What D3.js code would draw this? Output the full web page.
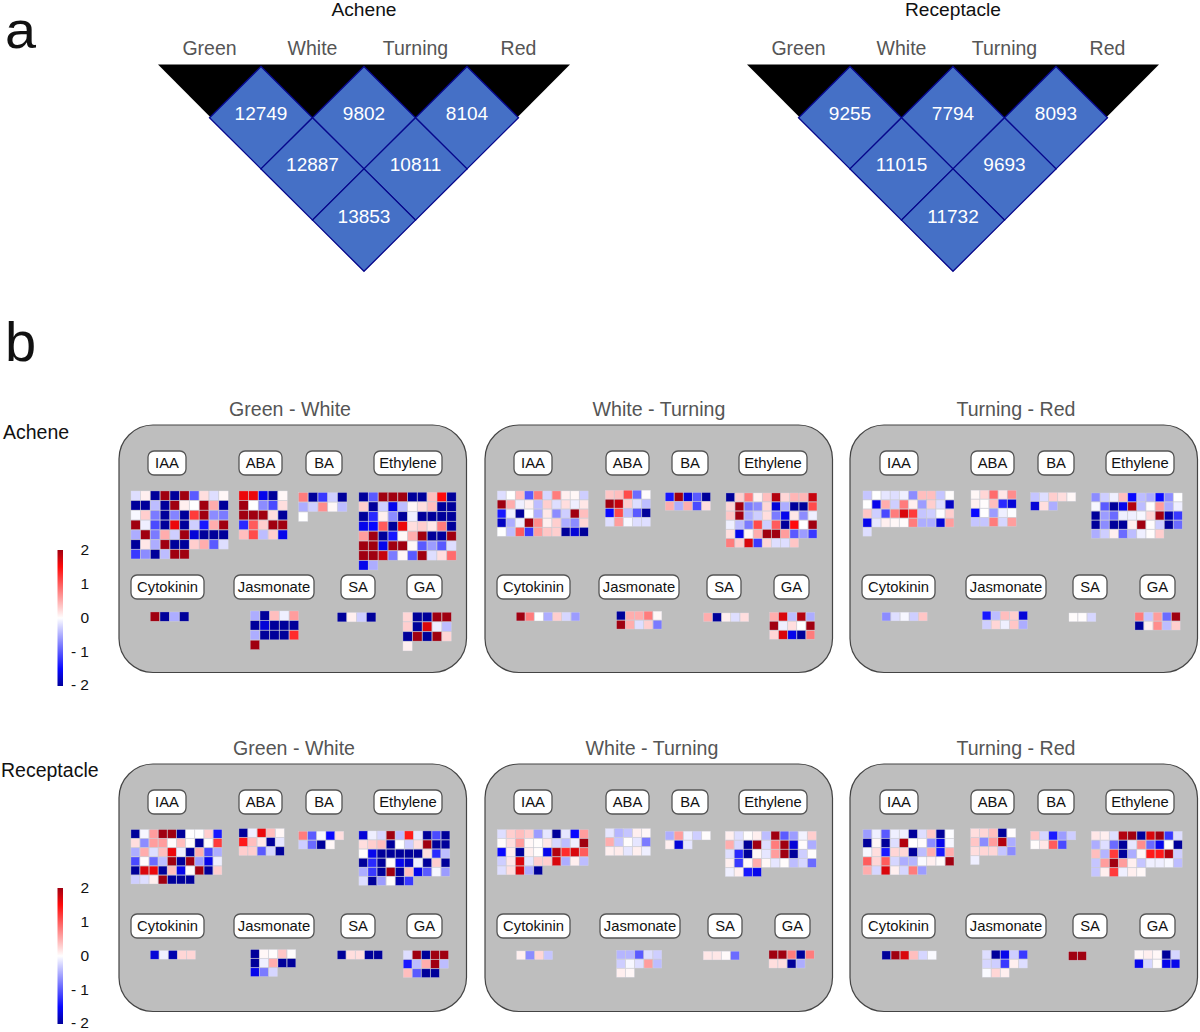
<!DOCTYPE html>
<html><head><meta charset="utf-8">
<script src="https://cdn.jsdelivr.net/npm/d3@7"></script>
<style>html,body{margin:0;padding:0;background:#fff}svg{display:block}text{font-family:"Liberation Sans",Arial,sans-serif}</style>
</head><body><svg id="c" width="1200" height="1032"></svg>
<script>
// ---- data ----
const stages = ["Green","White","Turning","Red"];
const acheneOverlap = [[12749,9802,8104],[12887,10811],[13853]];
const receptacleOverlap = [[9255,7794,8093],[11015,9693],[11732]];
const groupNames = ["IAA","ABA","BA","Ethylene","Cytokinin","Jasmonate","SA","GA"];
const colorTicks = [-2,-1,0,1,2];

const acheneGW = [
 [[-.2,.1,-2,2,-2,2,-1,.2,-.2,.05],[-2,-2,-.4,-2,2,.1,0,2,.5,-2],[-.05,.3,-.8,-2,-.75,-2,1.2,2,-.7,-.8],[2,-.1,-1.1,-2,1.6,-2,-.3,-1.4,.5,2],[-.5,2,-.8,.5,-.3,2,-1.7,-2,-2,-2],[-2,.15,-.5,2,-2,-2,.3,.5,-1,-.2],[-1.2,-.7,-2,-.4,2,2]],
 [[1.6,1.6,-1.6,-2,.05],[2,0,-.7,-1.1,.2],[2,2,2,.2,-2],[-1.3,1,.3,2,2],[.4,1.1,-.4,.3,-1.6]],
 [[.8,-2,-1.2,-.3,-2],[-.5,-.3,.7,.05,-.4],[0]],
 [[-2,-1,2,2,2,-2,-2,.4,1.5,-2],[.3,-2,-.3,-1.6,-.4,.05,.2,.4,-2,-2],[-2,-1.3,.1,-.7,-2,-.1,-2,-2,-2,-2],[-1.6,-1.5,1,-2,1.6,.2,.3,.15,.8,-2],[.6,2,-2,-1.4,.05,.5,2,-2,-2,2],[2,2,-1.6,2,2,.05,-1,-.6,-1,-.2],[2,2,1.8,-.8,.05,-1,2,-.2,.2,.9],[-1.6,-.5]],
 [[2,-2,-.5,-2]],
 [[-.5,-2,.4,-.1,.6],[-2,-1.7,-2,-2,-2],[-.5,-2,-2,-2,1.3],[2]],
 [[-2,.1,-.3,-2]],
 [[.25,-2,-2,2,2],[.3,-2,1.7,-.1,-.4],[-2,2,-2,2,.25],[.1]]
];
const acheneWT = [
 [[-.2,0,.4,-1,.8,-.25,.8,.1,.05,-.3],[2,.5,-.1,.1,-.4,.3,-.2,.2,-.1,.15],[-1.4,-.1,-2,0,-.5,.15,-.7,-.3,2,.4],[-1.8,-.5,-.1,2,.7,.1,.3,-.5,-.7,.25],[0,-.4,1,-1.2,.6,.35,.3,-2,-1.7,-2]],
 [[.35,.4,1.1,-.9,.02],[2,1.8,.3,-.2,-.4],[-1.5,1.1,-.4,-1,-2],[-.2,.6,-.05,-.2,-.2]],
 [[-1.4,2,-1.7,-1,-2],[.5,-.5,.5,-1.1,.2]],
 [[-2,.3,.8,.1,.4,1.9,.25,.45,.45,1.8],[.25,2,-.8,-.7,.25,-1.7,-.5,-2,-2,1.1],[.35,2,-.5,-.3,.2,-.8,-1.6,.15,-.7,-.1],[-.1,-.4,-.8,1.1,-.3,1,-2,1.5,0,2],[.2,-1.6,.05,.5,2,2,.6,-1,-.6,-1.2],[.8,.3,1.7,-1.2,.25,-.2,-.2,.35]],
 [[2,.8,0,-.5,.3,-.25,-.6]],
 [[-2,.5,.5,.8,.05],[2,.5,-.2,.3,-.8]],
 [[.5,-2,.1,-.2,.2]],
 [[.5,1.7,-.4,1.9,-.5],[2,-.1,.2,0,2],[.25,1.7,-1.6,-2,.8]]
];
const acheneTR = [
 [[-.35,0,-.15,-.2,-.1,-.7,.4,.4,-.35,.02],[0,-1.6,.5,-.3,.8,.1,-.6,.3,-.2,-1.8],[.35,-.3,-1.1,.8,1.7,1.2,-.35,-.3,-.02,.3],[-1.6,-.15,.1,.05,.02,.8,-.5,-.5,-1.7,.6],[-.2]],
 [[.05,.25,.9,.15,.7],[.1,.02,.4,-1.3,-1.7],[-1.5,0,-.6,-.1,-.02],[-.35,-.35,.8,-.25,.6]],
 [[-.35,-.2,.3,.2,.05],[-1.7,.2,-.5]],
 [[-.7,-.3,-.1,.4,-1.5,-.4,-.5,-1.5,-.7,0],[-.05,-1,-2,-1.6,1.9,-.4,.02,.6,-.5,-.1],[-2,-.6,-.9,-.1,-.1,-.05,.25,2,-1.9,-1.2],[-2,-.7,-2,-2,.1,2,.02,-.3,-2,-.9],[-.5,-.3,.1,-.9,-.4,-.1,.02,.3]],
 [[-.7,-.2,-.05,-.3,.35]],
 [[-1.4,-.4,.4,.3,-1.7],[-.3,.25,-.1,.35,-.5]],
 [[.02,.02,-.25]],
 [[.8,-.35,.6,-.9,2],[-2,.1,.7,-.4,.3]]
];
const receptacleGW = [
 [[-2,-.05,.6,2,2,-2,0,0,.3,-1.4],[.2,-.7,.6,.6,.02,.4,.02,-2,.02,1.2],[-.5,.5,-.2,.4,1.6,-.1,-2,.5,-1.1,-.5],[-1.1,.02,-.9,-.4,2,-2,2,-.6,-1.6,-.1],[-2,1.7,1.6,-2,.4,-1.6,.02,2,-2,.3],[-.3,-.2,.1,2,-2,-2,-2]],
 [[-2,-.1,1.6,.4,.05],[1.4,.4,.15,-2,-.15],[.3,.3,-1,-.25,-2]],
 [[.8,-1,-.05,-1.5,.2],[-.3,-.9,-2,.05]],
 [[-1.7,-.1,-.25,2,-.4,1.4,-.15,-2,-1.1,-2],[.2,.3,.4,-2,0,-.3,.2,2,-2,-2],[.02,-1.6,-2,-2,-2,-2,-2,.2,-1.3,-.4],[-2,-1.3,-2,.02,-1.6,-1.8,-.1,-2,.3,-2],[-.5,-1.2,-2,2,-2,.4,-1.6,-1,-.05,-.6],[-.2,-2,-.6,.02,-1.9,-1.2]],
 [[-1.7,-.1,-1.9,.25,.25]],
 [[-2,.05,.02,.35,.02],[-2,-.1,.5,-2,-2],[-1.6,-.8,-.25]],
 [[-2,.2,.2,-2,-2]],
 [[-.2,2,-2,2,2],[-1.4,-.4,.5,2,-.4],[.4,-1,-2,-2]]
];
const receptacleWT = [
 [[-.2,.3,.4,.3,-.6,-.15,-2,-.15,-1.5,.6],[.02,.2,.6,.05,.02,.15,-.25,-.4,-.1,2],[-1.5,.1,-2,.1,.02,-1.6,1.9,1.3,1.7,1],[-.3,.15,1.7,-.15,.3,.3,1.7,-.5,.1,-.4],[-.2,.2,1.7,-.5,-2]],
 [[-.15,-.45,-.35,.1,.05],[.5,-.35,.02,-.15,-.8],[.1,.12,-.15,.1,-.1]],
 [[-.5,.6,-.1,-.3,.02],[.1,-1.7,-.15]],
 [[.1,-.2,.02,.1,-.4,2,-1,-.6,-.08,.3],[.5,-.25,-2,2,-.2,.8,2,-1.7,.02,-.5],[-.2,-1.3,-2,.05,-.15,.6,2,-2,-.3,.02],[.1,-1.2,.05,.5,.05,-.15,.02,-.4,-.25,-.9],[-.1,.1,-1.4,-1.6]],
 [[.1,-.7,.25,-.35]],
 [[-.45,-.45,-1,-.2,-.3],[-.3,-.05,-.2,.6,-.4],[.1,.05]],
 [[.15,.15,.03,-.9]],
 [[2,2,.8,-2,.8],[.2,.2,-2,-.5]]
];
const receptacleTR = [
 [[-.6,-.1,-1,-.1,-.1,-2,-.2,.35,-2,-.02],[-2,.05,-2,-.2,1.9,0,.02,-.7,-1.6,-.05],[-.05,.2,-1.4,.25,.25,-2,-.4,.5,-1.4,.5],[1,.25,1,-.25,-.5,-.45,-.03,.1,.03,2],[.5,-.25,1.7,.1,-.25,.8,-.6]],
 [[.2,.25,.4,-2,.02],[.35,-.7,.6,1.9,-.5],[.2,.25,.25,-.35,-.7],[-.1]],
 [[.35,-.25,-1.4,-.6,-.3],[.02,.15,1,-1.1]],
 [[.15,.1,-.2,1.9,2,-2,1.7,2,-1.2,-.2],[-.5,-.2,-.9,-2,-.15,.7,-.9,-1.6,.02,-2],[.4,-.45,1.2,-2,-.5,.05,1.4,1.4,1.9,-.3],[-.35,.6,2,.6,.1,-.35,-.1,-.1,-.05,-.4],[-.35,.1,1.2,-.1,.1,.05]],
 [[-2,2,1.7,.4,-.25,-.03]],
 [[-.2,-2,-1.6,-.3,-1.2],[-.25,-.3,-1.2,.1,-.2],[-.03,.25,.1]],
 [[2,2]],
 [[.05,.1,.05,-2,-.25],[-1.6,-.25,.03,-1.6,-1.6]]
];

// ---- layout (separate from values) ----
const svg = d3.select("#c");
const FONT_GREY = "#555";
const color = d3.scaleLinear().domain([-2,-1.5,0,1.5,2])
  .range(["#00009a","#0808ff","#ffffff","#ff0a0a","#a00010"]).clamp(true);

const panels = [
 {title:"Green - White",  titleX:290, titleY:409, box:[119,425], step:9.78, data:acheneGW,
  pills:[148,239,306,374,131,234,341,407], pillY:[451,575],
  org:[[130.7,490.7],[238.7,490.7],[298.3,492.3],[358.6,492],[150,611.7],[250,610.7],[337,612.3],[402.7,612]]},
 {title:"White - Turning",titleX:659, titleY:409, box:[485,425], step:9.15, data:acheneWT,
  pills:[514,606,672,739,497,599,707,774], pillY:[451,575],
  org:[[497,490.7],[605,490],[665,492.3],[725.7,492.7],[516,612],[616.3,611],[703.3,612.7],[769.3,612]]},
 {title:"Turning - Red",  titleX:1016,titleY:409, box:[850,425], step:9.15, data:acheneTR,
  pills:[880,971,1038,1106,862,966,1073,1140], pillY:[451,575],
  org:[[862.7,490.7],[970.7,490],[1030.3,492.3],[1091,492.7],[881.7,612],[982,611],[1068.7,612.7],[1134.7,612]]},
 {title:"Green - White",  titleX:294, titleY:748, box:[119,764], step:9.15, data:receptacleGW,
  pills:[148,239,306,374,131,234,341,407], pillY:[790,914],
  org:[[130.7,829.3],[238.7,828.3],[298.3,831],[358.6,830.7],[150,950.3],[250.3,949.3],[337,950.3],[403,950.3]]},
 {title:"White - Turning",titleX:652, titleY:748, box:[485,764], step:9.15, data:receptacleWT,
  pills:[514,606,672,739,497,600,708,775], pillY:[790,914],
  org:[[497,829.3],[605,828.3],[665,831],[725,831],[516.3,950.7],[616.3,950],[703,951],[768.7,950]]},
 {title:"Turning - Red",  titleX:1016,titleY:748, box:[850,764], step:9.15, data:receptacleTR,
  pills:[880,971,1038,1106,862,966,1073,1140], pillY:[790,914],
  org:[[862.7,829.3],[970.3,828.3],[1030.3,831],[1091,831],[881.7,950.7],[982,950],[1068.3,951.3],[1134.3,950]]}
];
const pillW = {IAA:38,ABA:43,BA:36,Ethylene:68,Cytokinin:73,Jasmonate:80,SA:34,GA:35};

// triangles (panel a)
function triangle(x0, title, values){
  const u = 51.5, top = 65;
  const x = d3.scaleLinear().domain([0,8]).range([x0, x0+8*u]);
  const y = d3.scaleLinear().domain([0,4]).range([top+1.5, top+1.5+4*51.2]);
  const g = svg.append("g");
  g.append("text").attr("x",x(4)).attr("y",15.5).attr("text-anchor","middle").attr("font-size",19.2).attr("fill","#111").text(title);
  g.selectAll("text.st").data(stages).join("text").attr("class","st")
    .attr("x",(d,i)=>x(1+2*i)).attr("y",54.5).attr("text-anchor","middle").attr("font-size",19.5).attr("fill",FONT_GREY).text(d=>d);
  g.append("path").attr("fill","#000").attr("d",`M${x(0)},${top-0.5}L${x(8)},${top-0.5}L${x(4)},${y(4)}Z`);
  const cells = values.flatMap((row,r)=>row.map((v,c)=>({v,r,c,cx:2+r+2*c})));
  const sel = g.selectAll("g.d").data(cells).join("g").attr("class","d");
  sel.append("path").attr("fill","#4570c6").attr("stroke","#07078c").attr("stroke-width",1.3)
    .attr("d",d=>`M${x(d.cx)},${y(d.r)}L${x(d.cx+1)},${y(d.r+1)}L${x(d.cx)},${y(d.r+2)}L${x(d.cx-1)},${y(d.r+1)}Z`);
  sel.append("text").attr("x",d=>x(d.cx)).attr("y",d=>y(d.r+1)+2.5).attr("text-anchor","middle")
    .attr("font-size",19).attr("fill","#fff").text(d=>d.v);
}
triangle(158,"Achene",acheneOverlap);
triangle(747,"Receptacle",receptacleOverlap);

svg.append("text").attr("x",5).attr("y",47.5).attr("font-size",52).attr("textLength",31).attr("lengthAdjust","spacingAndGlyphs").attr("fill","#111").text("a");
svg.append("text").attr("x",5).attr("y",361).attr("font-size",56).attr("fill","#111").text("b");
svg.append("text").attr("x",3).attr("y",439).attr("font-size",19.5).attr("fill","#111").text("Achene");
svg.append("text").attr("x",1).attr("y",777).attr("font-size",19.5).attr("fill","#111").text("Receptacle");

// panels
panels.forEach(p=>{
  const g = svg.append("g");
  g.append("text").attr("x",p.titleX).attr("y",p.titleY+6.5).attr("text-anchor","middle")
    .attr("font-size",19.6).attr("fill",FONT_GREY).text(p.title);
  g.append("rect").attr("x",p.box[0]).attr("y",p.box[1]).attr("width",347.5).attr("height",247.5)
    .attr("rx",34).attr("fill","#bebebe").attr("stroke","#444").attr("stroke-width",1.2);
  groupNames.forEach((name,gi)=>{
    const px = p.pills[gi], py = p.pillY[gi<4?0:1], w = pillW[name];
    g.append("rect").attr("x",px).attr("y",py).attr("width",w).attr("height",24).attr("rx",6)
      .attr("fill","#fff").attr("stroke","#555").attr("stroke-width",1.3);
    g.append("text").attr("x",px+w/2).attr("y",py+17).attr("text-anchor","middle")
      .attr("font-size",14.8).attr("fill","#111").text(name);
    const rows = p.data[gi], [ox,oy] = p.org[gi];
    const x = d3.scaleLinear().domain([0,1]).range([ox,ox+p.step]);
    const y = d3.scaleLinear().domain([0,1]).range([oy,oy+p.step]);
    const cells = rows.flatMap((row,r)=>row.map((v,c)=>({v,r,c})));
    g.selectAll(null).data(cells).join("rect")
      .attr("x",d=>x(d.c)+0.25).attr("y",d=>y(d.r)+0.25)
      .attr("width",p.step-0.5).attr("height",p.step-0.5)
      .attr("fill",d=>color(d.v)).attr("stroke","#d8d8e4").attr("stroke-opacity",.6).attr("stroke-width",0.5);
  });
});

// colour bars
svg.append("defs").append("linearGradient").attr("id","cb").attr("x1",0).attr("x2",0).attr("y1",0).attr("y2",1)
  .selectAll("stop").data(d3.range(2,-2.01,-0.25)).join("stop")
  .attr("offset",d=>(2-d)/4).attr("stop-color",d=>color(d));
[[550,686],[888,1024]].forEach(([y0,y1])=>{
  svg.append("rect").attr("x",57.5).attr("y",y0).attr("width",5.5).attr("height",y1-y0).attr("fill","url(#cb)");
  const sc = d3.scaleLinear().domain([2,-2]).range([y0,y1-1]);
  const ax = svg.append("g").attr("transform","translate(89,0)")
    .call(d3.axisRight(sc).tickValues(colorTicks).tickSize(0).tickPadding(0).tickFormat(d=>d<0?"- "+Math.abs(d):String(d)));
  ax.select(".domain").remove();
  ax.selectAll("text").attr("text-anchor","end").attr("font-family","'Liberation Sans',Arial,sans-serif").attr("font-size",15.5).attr("fill","#111");
});
</script></body></html>
